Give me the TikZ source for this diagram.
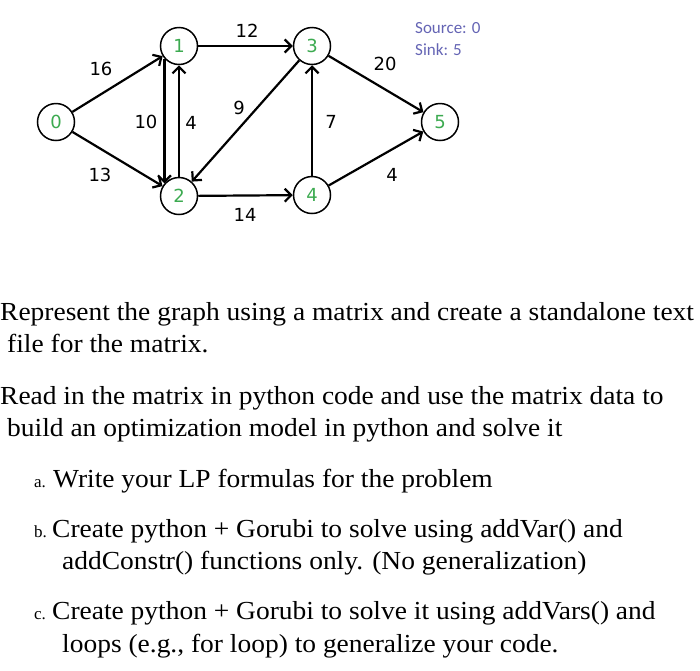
\documentclass[tikz,border=0pt]{standalone}
\usepackage{fontspec}
\setmainfont{Liberation Serif}
\newfontfamily\graphfont{DejaVu Sans}
\newfontfamily\calfont{Carlito}
\usetikzlibrary{arrows.meta}
\definecolor{nodegreen}{RGB}{60,170,80}
\definecolor{srcblue}{RGB}{100,100,180}
\newcommand\widetext[1]{\scalebox{1.056}[1]{#1}}
\begin{document}
\begin{tikzpicture}[x=1pt,y=-1pt,
  vertex/.style={circle,draw=black,line width=1.5pt,minimum size=37pt,inner sep=0pt,
    font=\graphfont\fontsize{18}{18}\selectfont,text=nodegreen},
  edge/.style={line width=2.2pt,-{Straight Barb[length=6.5pt,width=13pt]}},
  elabel/.style={font=\graphfont\fontsize{18}{18}\selectfont,inner sep=0pt},
  srcstyle/.style={anchor=base west,inner sep=0pt,text=srcblue,font=\calfont\fontsize{17}{17}\selectfont},
  para/.style={anchor=base west,inner sep=0pt,font=\fontsize{26}{32}\selectfont},
  lbl/.style={anchor=base west,inner sep=0pt,font=\fontsize{17}{17}\selectfont}]
\useasboundingbox (0,0) rectangle (700,670);
% vertices
\node[vertex] (n0) at (56,122) {0};
\node[vertex] (n1) at (179,46) {1};
\node[vertex] (n2) at (179,196) {2};
\node[vertex] (n3) at (312,46) {3};
\node[vertex] (n4) at (312,195) {4};
\node[vertex] (n5) at (440,122) {5};
% edges
\draw[edge] (n0) -- (n1);
\draw[edge] (n0) -- (n2);
\draw[edge] (n1) -- (n3);
\draw[edge] (n2) -- (n4);
\draw[edge] (n3) -- (n5);
\draw[edge] (n4) -- (n5);
\draw[edge] (n4) -- (n3);
\draw[edge] (n3) -- (n2);
\draw[edge] (n2) -- (n1);
\draw[edge] (n1.221) -- (n2.139);
% edge labels
\node[elabel] (l01) at (101,69) {16};
\node[elabel] (l02) at (100,175) {13};
\node[elabel] (l13) at (247,31) {12};
\node[elabel] (l32) at (239,108) {9};
\node[elabel] (l24) at (245,215) {14};
\node[elabel] (l12) at (146,122) {10};
\node[elabel] (l21) at (191,123) {4};
\node[elabel] (l43) at (331,122) {7};
\node[elabel] (l35) at (385,64) {20};
\node[elabel] (l45) at (392,175) {4};
% source / sink
\node[srcstyle] (src) at (415,33.5) {Source: 0};
\node[srcstyle] (snk) at (415,55) {Sink: 5};
% text
\node[para] (t1) at (0,320) {\widetext{Represent the graph using a matrix and create a standalone text}};
\node[para] (t2) at (7,352.5) {\widetext{file for the matrix.}};
\node[para] (t3) at (0,404) {\widetext{Read in the matrix in python code and use the matrix data to}};
\node[para] (t4) at (7,436) {\widetext{build an optimization model in python and solve it}};
\node[lbl] (la) at (34,487) {a.};
\node[para] (ta) at (53,487) {\widetext{Write your LP formulas for the problem}};
\node[lbl] (lb) at (34,537) {b.};
\node[para] (tb1) at (52,537) {\widetext{Create python + Gorubi to solve using addVar() and}};
\node[para] (tb2) at (62,569) {\widetext{addConstr() functions only. (No generalization)}};
\node[lbl] (lc) at (34,619) {c.};
\node[para] (tc1) at (52,619) {\widetext{Create python + Gorubi to solve it using addVars() and}};
\node[para] (tc2) at (62,652) {\widetext{loops (e.g., for loop) to generalize your code.}};
\end{tikzpicture}
\end{document}
